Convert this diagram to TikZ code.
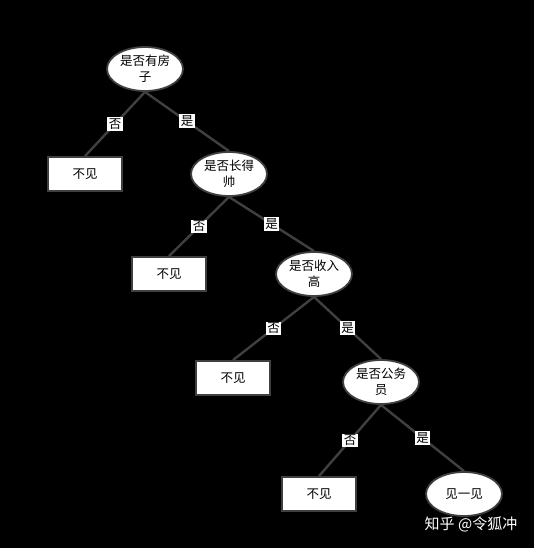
\documentclass[tikz,border=0pt]{standalone}
\usepackage{fontspec}
\newfontfamily\cjk{Noto Sans CJK SC}
\usetikzlibrary{shapes.geometric}
\definecolor{edgegray}{HTML}{404040}
\begin{document}
\begin{tikzpicture}[
            x=1pt, y=-1pt,
            font=\cjk\fontsize{12.5}{16}\selectfont,
            decision/.style = {ellipse, draw=edgegray, line width=1.8pt, fill=white, minimum width=76pt, minimum height=44pt, inner sep=0pt, align=center},
            leaf/.style     = {rectangle, draw=edgegray, line width=1.8pt, fill=white, minimum width=74pt, minimum height=34pt, inner sep=0pt},
            branch/.style   = {draw=edgegray, line width=2.4pt},
            answer/.style   = {midway, fill=white, inner sep=1.5pt, text=black}
        ]
            \fill[black] (0,0) rectangle (534,548);
            \useasboundingbox (0,0) rectangle (534,548);

            \node[decision] (house)  at (145,69)  {是否有房\\子};
            \node[decision] (looks)  at (229,174) {是否长得\\帅};
            \node[decision] (income) at (314,274) {是否收入\\高};
            \node[decision] (civil)  at (381,382) {是否公务\\员};
            \node[decision] (meet)   at (464,494) {见一见};

            \node[leaf] (no1) at (85,174)  {不见};
            \node[leaf] (no2) at (169,274) {不见};
            \node[leaf] (no3) at (233,378) {不见};
            \node[leaf] (no4) at (319,494) {不见};

            \draw[branch] (house.south)  -- (no1.north)    node[answer] {否};
            \draw[branch] (house.south)  -- (looks.north)  node[answer] {是};
            \draw[branch] (looks.south)  -- (no2.north)    node[answer] {否};
            \draw[branch] (looks.south)  -- (income.north) node[answer] {是};
            \draw[branch] (income.south) -- (no3.north)    node[answer] {否};
            \draw[branch] (income.south) -- (civil.north)  node[answer] {是};
            \draw[branch] (civil.south)  -- (no4.north)    node[answer] {否};
            \draw[branch] (civil.south)  -- (meet.north)   node[answer] {是};

            \node[text=white, font=\cjk\fontsize{15}{18}\selectfont] (mark) at (471,524) {知乎 @令狐冲};
        \end{tikzpicture}
\end{document}
